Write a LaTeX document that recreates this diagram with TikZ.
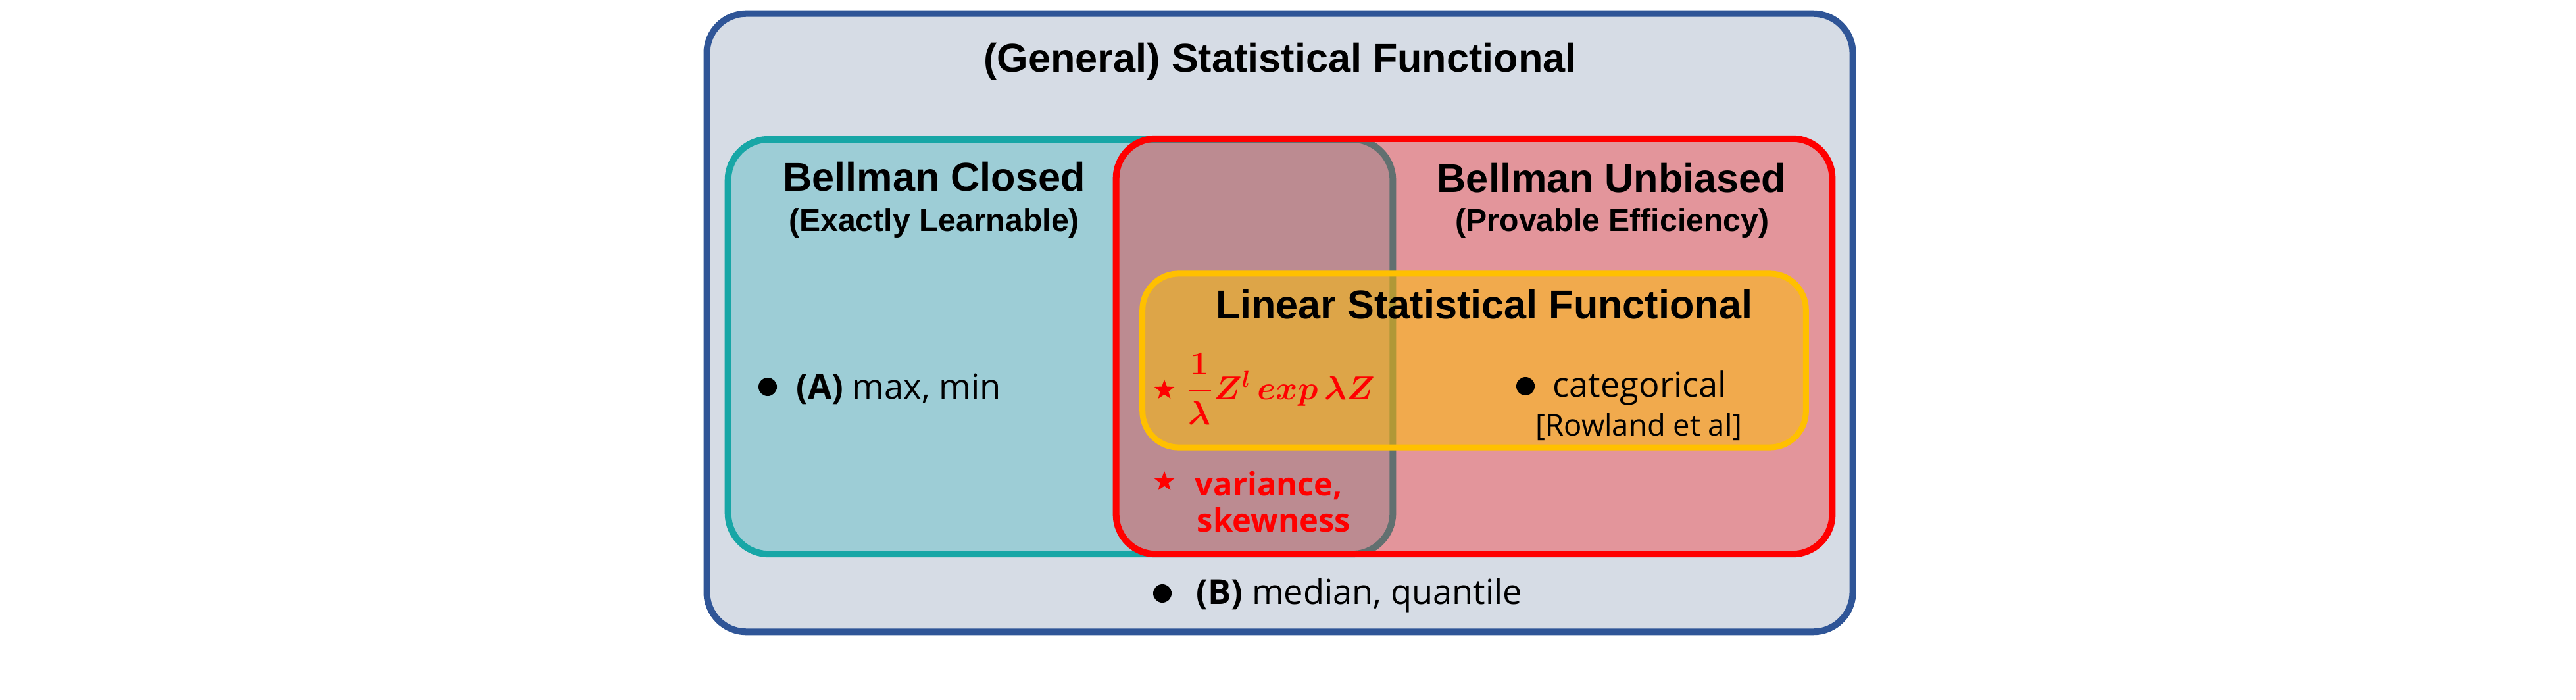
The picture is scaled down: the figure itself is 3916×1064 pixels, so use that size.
\documentclass[tikz,border=0pt]{standalone}
\usepackage{fontspec}
\usepackage{amsmath}
\setmainfont{Open Sans}
\newfontfamily\headfont{Liberation Sans}
\usepackage{tikz}
\usetikzlibrary{shapes,backgrounds}
\definecolor{setblue}{RGB}{47,85,151}
\definecolor{setgray}{RGB}{214,220,229}
\definecolor{closedteal}{RGB}{23,166,166}
\definecolor{closedfill}{RGB}{157,205,214}
\definecolor{linearyellow}{RGB}{255,192,0}
\tikzset{
  set box/.style={line width=0.1cm, rounded corners=0.6cm, inner sep=0},
  head text/.style={font=\headfont\bfseries\fontsize{17.4}{20}\selectfont, inner sep=0, anchor=base},
  sub text/.style={font=\headfont\bfseries\fontsize{13.7}{16}\selectfont, inner sep=0, anchor=base},
  item text/.style={font=\fontsize{14.9}{18}\selectfont, inner sep=0, anchor=base west},
  ref text/.style={font=\fontsize{12.9}{15}\selectfont, inner sep=0, anchor=base west},
  red item/.style={font=\bfseries\fontsize{13.9}{16}\selectfont, text=red, inner sep=0, anchor=base west},
  bullet dot/.style={circle, fill=black, inner sep=0, minimum size=0.28cm},
  red star/.style={star, star points=5, star point ratio=2.4, fill=red, inner sep=0, minimum size=0.32cm}
}

\begin{document}
\begin{tikzpicture}[x=0.01cm, y=-0.01cm, background rectangle/.style={fill=white}, show background rectangle, inner frame sep=0pt]
    \useasboundingbox (0,0) rectangle (3916,1064);
    \draw (1945.5,490.5) node[set box, draw=setblue, fill=setgray, minimum width=17.41cm, minimum height=9.39cm] (general set) {};
    \draw (1612,527) node[set box, draw=closedteal, fill=closedfill, minimum width=10.1cm, minimum height=6.3cm, rounded corners=0.62cm] (closed set) {};
    \draw (2241,526.5) node[set box, draw=red, fill=red, fill opacity=0.32, minimum width=10.88cm, minimum height=6.31cm] (unbiased set) {};
    \draw (2241,548) node[set box, draw=linearyellow, fill=linearyellow, fill opacity=0.5, minimum width=10.08cm, minimum height=2.64cm, rounded corners=0.55cm, line width=0.09cm] (linear set) {};
    \draw (1946,110) node[head text] (general title) {(General) Statistical Functional};
    \draw (1420,291) node[head text] (closed title) {Bellman Closed};
    \draw (1420,352) node[sub text] (closed sub) {(Exactly Learnable)};
    \draw (2450,293) node[head text] (unbiased title) {Bellman Unbiased};
    \draw (2451,352) node[sub text] (unbiased sub) {(Provable Efficiency)};
    \draw (2256,485) node[head text] (linear title) {Linear Statistical Functional};
    \draw (1167,588) node[bullet dot] (dot a) {};
    \draw (1210,606) node[item text] (item a) {\textbf{(A)} max, min};
    \draw (1767,902) node[bullet dot] (dot b) {};
    \draw (1818,918) node[item text] (item b) {\textbf{(B)} median, quantile};
    \draw (2319,587) node[bullet dot] (dot cat) {};
    \draw (2360,603) node[item text] (item cat) {categorical};
    \draw (2334,662) node[ref text] (item ref) {[Rowland et al]};
    \draw (1770,593) node[red star] (star exp) {};
    \draw (1802,607) node[red item, font=\bfseries\fontsize{13.6}{16}\selectfont] (item exp) {$\boldsymbol{\dfrac{1}{\lambda}Z^{l}\,exp\,\lambda Z}$};
    \draw (1770,732) node[red star] (star var) {};
    \draw (1816,753) node[red item] (item var) {variance,};
    \draw (1819,808) node[red item] (item skew) {skewness};
\end{tikzpicture}
\end{document}
